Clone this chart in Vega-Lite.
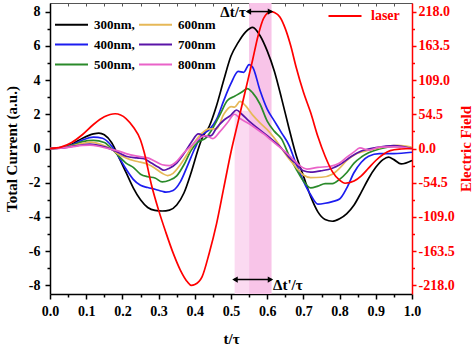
{
"$schema": "https://vega.github.io/schema/vega-lite/v6.json",
"width": 362, "height": 291,
"autosize": {"type": "none"},
"padding": {"left": 50, "top": 3, "right": 62, "bottom": 56},
"background": "white",
"config": {
 "view": {"stroke": null},
 "axis": {"grid": false, "labelFlush": false, "labelFont": "Liberation Serif", "labelFontWeight": "bold", "labelFontSize": 14, "labelColor": "black", "titleFont": "Liberation Serif", "titleFontWeight": "bold", "titleFontSize": 15, "titleColor": "black", "domainColor": "black", "domainWidth": 1.5, "tickColor": "black", "tickWidth": 1.5},
 "legend": {"labelFont": "Liberation Serif", "labelFontWeight": "bold", "labelFontSize": 13, "labelColor": "black", "padding": 0}
},
"datasets": {
 "bands": [
  {"shade": "light", "x0": 0.51, "x1": 0.55, "y0": -8.5, "y1": 2.2},
  {"shade": "dark", "x0": 0.55, "x1": 0.612, "y0": -8.5, "y1": 8.5}
 ],
 "curves": [
  {"s":"300nm","t":0,"v":0},{"s":"300nm","t":0.03,"v":0.05},{"s":"300nm","t":0.06,"v":0.25},{"s":"300nm","t":0.09,"v":0.6},{"s":"300nm","t":0.12,"v":0.85},{"s":"300nm","t":0.135,"v":0.9},{"s":"300nm","t":0.15,"v":0.8},{"s":"300nm","t":0.17,"v":0.35},{"s":"300nm","t":0.19,"v":-0.5},{"s":"300nm","t":0.21,"v":-1.4},{"s":"300nm","t":0.23,"v":-2.3},{"s":"300nm","t":0.25,"v":-3.0},{"s":"300nm","t":0.27,"v":-3.45},{"s":"300nm","t":0.29,"v":-3.62},{"s":"300nm","t":0.31,"v":-3.65},{"s":"300nm","t":0.33,"v":-3.6},{"s":"300nm","t":0.35,"v":-3.3},{"s":"300nm","t":0.37,"v":-2.6},{"s":"300nm","t":0.39,"v":-1.4},{"s":"300nm","t":0.41,"v":0.0},{"s":"300nm","t":0.42,"v":0.6},{"s":"300nm","t":0.44,"v":1.3},{"s":"300nm","t":0.46,"v":2.5},{"s":"300nm","t":0.48,"v":4.0},{"s":"300nm","t":0.5,"v":5.4},{"s":"300nm","t":0.52,"v":6.2},{"s":"300nm","t":0.54,"v":6.8},{"s":"300nm","t":0.56,"v":7.08},{"s":"300nm","t":0.58,"v":6.6},{"s":"300nm","t":0.6,"v":5.7},{"s":"300nm","t":0.62,"v":4.5},{"s":"300nm","t":0.64,"v":2.9},{"s":"300nm","t":0.66,"v":1.2},{"s":"300nm","t":0.68,"v":-0.4},{"s":"300nm","t":0.7,"v":-1.6},{"s":"300nm","t":0.72,"v":-2.8},{"s":"300nm","t":0.74,"v":-3.7},{"s":"300nm","t":0.76,"v":-4.15},{"s":"300nm","t":0.78,"v":-4.25},{"s":"300nm","t":0.8,"v":-4.1},{"s":"300nm","t":0.82,"v":-3.8},{"s":"300nm","t":0.84,"v":-3.3},{"s":"300nm","t":0.86,"v":-2.55},{"s":"300nm","t":0.88,"v":-1.75},{"s":"300nm","t":0.9,"v":-1.1},{"s":"300nm","t":0.92,"v":-0.65},{"s":"300nm","t":0.935,"v":-0.5},{"s":"300nm","t":0.95,"v":-0.65},{"s":"300nm","t":0.97,"v":-0.9},{"s":"300nm","t":1.0,"v":-0.7},
  {"s":"400nm","t":0,"v":0},{"s":"400nm","t":0.03,"v":0.05},{"s":"400nm","t":0.06,"v":0.2},{"s":"400nm","t":0.09,"v":0.5},{"s":"400nm","t":0.12,"v":0.67},{"s":"400nm","t":0.145,"v":0.6},{"s":"400nm","t":0.17,"v":0.15},{"s":"400nm","t":0.19,"v":-0.5},{"s":"400nm","t":0.21,"v":-1.2},{"s":"400nm","t":0.23,"v":-1.8},{"s":"400nm","t":0.25,"v":-2.15},{"s":"400nm","t":0.27,"v":-2.28},{"s":"400nm","t":0.29,"v":-2.38},{"s":"400nm","t":0.31,"v":-2.5},{"s":"400nm","t":0.32,"v":-2.55},{"s":"400nm","t":0.34,"v":-2.45},{"s":"400nm","t":0.36,"v":-1.95},{"s":"400nm","t":0.38,"v":-1.0},{"s":"400nm","t":0.4,"v":0.0},{"s":"400nm","t":0.42,"v":0.8},{"s":"400nm","t":0.44,"v":1.1},{"s":"400nm","t":0.46,"v":1.7},{"s":"400nm","t":0.48,"v":2.8},{"s":"400nm","t":0.5,"v":3.8},{"s":"400nm","t":0.52,"v":4.5},{"s":"400nm","t":0.535,"v":4.45},{"s":"400nm","t":0.55,"v":4.9},{"s":"400nm","t":0.56,"v":4.75},{"s":"400nm","t":0.58,"v":3.4},{"s":"400nm","t":0.6,"v":2.3},{"s":"400nm","t":0.62,"v":1.6},{"s":"400nm","t":0.64,"v":0.9},{"s":"400nm","t":0.66,"v":0.2},{"s":"400nm","t":0.68,"v":-0.9},{"s":"400nm","t":0.7,"v":-1.9},{"s":"400nm","t":0.72,"v":-2.7},{"s":"400nm","t":0.74,"v":-3.25},{"s":"400nm","t":0.76,"v":-3.2},{"s":"400nm","t":0.78,"v":-3.1},{"s":"400nm","t":0.8,"v":-2.95},{"s":"400nm","t":0.82,"v":-2.3},{"s":"400nm","t":0.84,"v":-1.4},{"s":"400nm","t":0.86,"v":-0.8},{"s":"400nm","t":0.88,"v":-0.45},{"s":"400nm","t":0.91,"v":-0.3},{"s":"400nm","t":0.95,"v":-0.3},{"s":"400nm","t":1.0,"v":-0.22},
  {"s":"500nm","t":0,"v":0},{"s":"500nm","t":0.03,"v":0.04},{"s":"500nm","t":0.06,"v":0.18},{"s":"500nm","t":0.09,"v":0.4},{"s":"500nm","t":0.12,"v":0.47},{"s":"500nm","t":0.15,"v":0.35},{"s":"500nm","t":0.17,"v":0.0},{"s":"500nm","t":0.19,"v":-0.45},{"s":"500nm","t":0.21,"v":-0.85},{"s":"500nm","t":0.23,"v":-1.1},{"s":"500nm","t":0.25,"v":-1.5},{"s":"500nm","t":0.27,"v":-1.65},{"s":"500nm","t":0.29,"v":-1.72},{"s":"500nm","t":0.31,"v":-1.95},{"s":"500nm","t":0.33,"v":-1.85},{"s":"500nm","t":0.35,"v":-1.6},{"s":"500nm","t":0.37,"v":-0.95},{"s":"500nm","t":0.39,"v":-0.1},{"s":"500nm","t":0.41,"v":0.4},{"s":"500nm","t":0.43,"v":0.6},{"s":"500nm","t":0.45,"v":1.2},{"s":"500nm","t":0.47,"v":2.0},{"s":"500nm","t":0.49,"v":2.8},{"s":"500nm","t":0.51,"v":3.05},{"s":"500nm","t":0.53,"v":3.3},{"s":"500nm","t":0.545,"v":3.5},{"s":"500nm","t":0.56,"v":3.25},{"s":"500nm","t":0.58,"v":2.6},{"s":"500nm","t":0.6,"v":1.6},{"s":"500nm","t":0.62,"v":1.0},{"s":"500nm","t":0.64,"v":0.55},{"s":"500nm","t":0.66,"v":-0.4},{"s":"500nm","t":0.68,"v":-1.2},{"s":"500nm","t":0.7,"v":-1.9},{"s":"500nm","t":0.72,"v":-2.3},{"s":"500nm","t":0.74,"v":-2.2},{"s":"500nm","t":0.76,"v":-2.05},{"s":"500nm","t":0.78,"v":-2.05},{"s":"500nm","t":0.8,"v":-1.8},{"s":"500nm","t":0.82,"v":-1.4},{"s":"500nm","t":0.84,"v":-0.85},{"s":"500nm","t":0.86,"v":-0.5},{"s":"500nm","t":0.88,"v":-0.25},{"s":"500nm","t":0.91,"v":-0.03},{"s":"500nm","t":0.95,"v":0.12},{"s":"500nm","t":1.0,"v":0.0},
  {"s":"600nm","t":0,"v":0},{"s":"600nm","t":0.03,"v":0.03},{"s":"600nm","t":0.06,"v":0.15},{"s":"600nm","t":0.09,"v":0.3},{"s":"600nm","t":0.11,"v":0.37},{"s":"600nm","t":0.14,"v":0.25},{"s":"600nm","t":0.17,"v":-0.05},{"s":"600nm","t":0.19,"v":-0.35},{"s":"600nm","t":0.21,"v":-0.55},{"s":"600nm","t":0.23,"v":-0.7},{"s":"600nm","t":0.25,"v":-0.8},{"s":"600nm","t":0.27,"v":-0.92},{"s":"600nm","t":0.29,"v":-1.15},{"s":"600nm","t":0.31,"v":-1.45},{"s":"600nm","t":0.325,"v":-1.58},{"s":"600nm","t":0.34,"v":-1.45},{"s":"600nm","t":0.36,"v":-0.95},{"s":"600nm","t":0.38,"v":-0.3},{"s":"600nm","t":0.4,"v":0.4},{"s":"600nm","t":0.42,"v":0.9},{"s":"600nm","t":0.44,"v":1.15},{"s":"600nm","t":0.46,"v":1.15},{"s":"600nm","t":0.48,"v":2.0},{"s":"600nm","t":0.5,"v":2.45},{"s":"600nm","t":0.51,"v":2.42},{"s":"600nm","t":0.525,"v":2.75},{"s":"600nm","t":0.54,"v":2.5},{"s":"600nm","t":0.56,"v":1.95},{"s":"600nm","t":0.58,"v":1.5},{"s":"600nm","t":0.6,"v":1.1},{"s":"600nm","t":0.62,"v":0.6},{"s":"600nm","t":0.64,"v":0.0},{"s":"600nm","t":0.66,"v":-0.6},{"s":"600nm","t":0.68,"v":-1.1},{"s":"600nm","t":0.7,"v":-1.55},{"s":"600nm","t":0.72,"v":-1.7},{"s":"600nm","t":0.75,"v":-1.68},{"s":"600nm","t":0.78,"v":-1.5},{"s":"600nm","t":0.8,"v":-1.15},{"s":"600nm","t":0.82,"v":-0.7},{"s":"600nm","t":0.84,"v":-0.38},{"s":"600nm","t":0.87,"v":-0.15},{"s":"600nm","t":0.91,"v":0.04},{"s":"600nm","t":0.96,"v":0.18},{"s":"600nm","t":1.0,"v":0.08},
  {"s":"700nm","t":0,"v":0},{"s":"700nm","t":0.03,"v":0.02},{"s":"700nm","t":0.06,"v":0.12},{"s":"700nm","t":0.09,"v":0.22},{"s":"700nm","t":0.11,"v":0.25},{"s":"700nm","t":0.14,"v":0.15},{"s":"700nm","t":0.17,"v":-0.05},{"s":"700nm","t":0.19,"v":-0.25},{"s":"700nm","t":0.21,"v":-0.45},{"s":"700nm","t":0.24,"v":-0.55},{"s":"700nm","t":0.26,"v":-0.6},{"s":"700nm","t":0.28,"v":-0.85},{"s":"700nm","t":0.3,"v":-1.1},{"s":"700nm","t":0.315,"v":-1.27},{"s":"700nm","t":0.33,"v":-1.15},{"s":"700nm","t":0.35,"v":-0.85},{"s":"700nm","t":0.37,"v":-0.3},{"s":"700nm","t":0.39,"v":0.35},{"s":"700nm","t":0.41,"v":0.85},{"s":"700nm","t":0.43,"v":0.7},{"s":"700nm","t":0.445,"v":0.75},{"s":"700nm","t":0.46,"v":1.2},{"s":"700nm","t":0.48,"v":1.65},{"s":"700nm","t":0.5,"v":1.95},{"s":"700nm","t":0.515,"v":2.25},{"s":"700nm","t":0.53,"v":2.0},{"s":"700nm","t":0.55,"v":1.6},{"s":"700nm","t":0.57,"v":1.25},{"s":"700nm","t":0.6,"v":0.75},{"s":"700nm","t":0.62,"v":0.4},{"s":"700nm","t":0.64,"v":0.0},{"s":"700nm","t":0.66,"v":-0.5},{"s":"700nm","t":0.68,"v":-0.9},{"s":"700nm","t":0.7,"v":-1.3},{"s":"700nm","t":0.72,"v":-1.38},{"s":"700nm","t":0.75,"v":-1.3},{"s":"700nm","t":0.78,"v":-1.15},{"s":"700nm","t":0.8,"v":-0.95},{"s":"700nm","t":0.83,"v":-0.5},{"s":"700nm","t":0.86,"v":-0.15},{"s":"700nm","t":0.9,"v":0.05},{"s":"700nm","t":0.95,"v":0.17},{"s":"700nm","t":1.0,"v":0.0},
  {"s":"800nm","t":0,"v":0},{"s":"800nm","t":0.03,"v":0.02},{"s":"800nm","t":0.06,"v":0.1},{"s":"800nm","t":0.09,"v":0.18},{"s":"800nm","t":0.11,"v":0.2},{"s":"800nm","t":0.14,"v":0.1},{"s":"800nm","t":0.17,"v":-0.05},{"s":"800nm","t":0.19,"v":-0.15},{"s":"800nm","t":0.21,"v":-0.3},{"s":"800nm","t":0.24,"v":-0.45},{"s":"800nm","t":0.27,"v":-0.55},{"s":"800nm","t":0.29,"v":-0.75},{"s":"800nm","t":0.31,"v":-0.95},{"s":"800nm","t":0.33,"v":-1.0},{"s":"800nm","t":0.35,"v":-0.75},{"s":"800nm","t":0.37,"v":-0.25},{"s":"800nm","t":0.39,"v":0.15},{"s":"800nm","t":0.41,"v":0.55},{"s":"800nm","t":0.43,"v":0.75},{"s":"800nm","t":0.45,"v":0.58},{"s":"800nm","t":0.47,"v":1.0},{"s":"800nm","t":0.49,"v":1.5},{"s":"800nm","t":0.51,"v":2.0},{"s":"800nm","t":0.525,"v":1.75},{"s":"800nm","t":0.55,"v":1.45},{"s":"800nm","t":0.57,"v":1.15},{"s":"800nm","t":0.59,"v":0.85},{"s":"800nm","t":0.61,"v":0.5},{"s":"800nm","t":0.63,"v":0.15},{"s":"800nm","t":0.65,"v":-0.2},{"s":"800nm","t":0.67,"v":-0.6},{"s":"800nm","t":0.69,"v":-1.0},{"s":"800nm","t":0.71,"v":-1.2},{"s":"800nm","t":0.74,"v":-1.1},{"s":"800nm","t":0.77,"v":-1.05},{"s":"800nm","t":0.8,"v":-0.85},{"s":"800nm","t":0.82,"v":-0.5},{"s":"800nm","t":0.84,"v":-0.2},{"s":"800nm","t":0.856,"v":0.04},{"s":"800nm","t":0.88,"v":-0.1},{"s":"800nm","t":0.91,"v":0.08},{"s":"800nm","t":0.96,"v":0.1},{"s":"800nm","t":1.0,"v":-0.02}
 ],
 "laser": [
  {"t":0,"e":0},{"t":0.03,"e":2.2},{"t":0.06,"e":9.5},{"t":0.09,"e":22.3},{"t":0.12,"e":38.2},{"t":0.15,"e":50.4},{"t":0.18,"e":55.3},{"t":0.21,"e":47.7},{"t":0.23,"e":34.1},{"t":0.25,"e":13.6},{"t":0.26,"e":-5.5},{"t":0.28,"e":-57.2},{"t":0.3,"e":-98.1},{"t":0.32,"e":-133.5},{"t":0.34,"e":-166.2},{"t":0.36,"e":-193.5},{"t":0.38,"e":-212.6},{"t":0.39,"e":-218},{"t":0.4,"e":-216.6},{"t":0.42,"e":-204.4},{"t":0.44,"e":-166.2},{"t":0.46,"e":-119.9},{"t":0.48,"e":-62.7},{"t":0.5,"e":-5.5},{"t":0.52,"e":43.6},{"t":0.54,"e":92.7},{"t":0.56,"e":141.7},{"t":0.575,"e":179.9},{"t":0.59,"e":207.1},{"t":0.61,"e":218},{"t":0.62,"e":216.6},{"t":0.635,"e":209.3},{"t":0.65,"e":190.8},{"t":0.665,"e":163.5},{"t":0.68,"e":129.4},{"t":0.7,"e":89.9},{"t":0.72,"e":57.2},{"t":0.74,"e":19.1},{"t":0.76,"e":-12.3},{"t":0.78,"e":-36.8},{"t":0.8,"e":-50.4},{"t":0.815,"e":-55.3},{"t":0.84,"e":-51.8},{"t":0.86,"e":-43.6},{"t":0.88,"e":-31.3},{"t":0.9,"e":-19.1},{"t":0.92,"e":-9.5},{"t":0.94,"e":-3.3},{"t":0.97,"e":-0.8},{"t":1.0,"e":0}
 ],
 "arrows": [
  {"x0": 0.545, "x1": 0.612, "y": 8.0},
  {"x0": 0.508, "x1": 0.612, "y": -7.66}
 ],
 "heads": [
  {"x": 0.548, "y": 8.0, "dir": "left"},
  {"x": 0.609, "y": 8.0, "dir": "right"},
  {"x": 0.511, "y": -7.66, "dir": "left"},
  {"x": 0.609, "y": -7.66, "dir": "right"}
 ],
 "labelTop": [{"x": 0.541, "y": 7.95, "label": "Δt/τ"}],
 "labelBottom": [{"x": 0.616, "y": -7.95, "label": "Δt'/τ"}]
},
"layer": [
 {
  "data": {"name": "bands"},
  "mark": {"type": "rect"},
  "encoding": {
   "x": {"field": "x0", "type": "quantitative", "scale": {"domain": [0, 1]}, "axis": {"orient": "bottom", "values": [0.05,0.15,0.25,0.35,0.45,0.55,0.65,0.75,0.85,0.95], "labels": false, "domain": false, "tickSize": 3, "title": null}},
   "x2": {"field": "x1"},
   "y": {"field": "y0", "type": "quantitative", "scale": {"domain": [-8.5, 8.5], "nice": false}, "axis": {"orient": "left", "values": [-7,-5,-3,-1,1,3,5,7], "labels": false, "domain": false, "tickSize": 3, "title": null}},
   "y2": {"field": "y1"},
   "color": {"field": "shade", "type": "nominal", "scale": {"domain": ["light", "dark"], "range": ["#fbdaf1", "#f8c4e8"]}, "legend": null}
  }
 },
 {
  "data": {"name": "curves"},
  "mark": {"type": "line", "strokeWidth": 1.7, "interpolate": "monotone"},
  "encoding": {
   "x": {"field": "t", "type": "quantitative", "scale": {"domain": [0, 1]}, "axis": {"orient": "bottom", "values": [0,0.1,0.2,0.3,0.4,0.5,0.6,0.7,0.8,0.9,1.0], "format": ".1f", "tickSize": 5, "labelPadding": 5, "title": "t/τ", "titleY": 44, "titleBaseline": "middle"}},
   "y": {"field": "v", "type": "quantitative", "scale": {"domain": [-8.5, 8.5], "nice": false}, "axis": {"orient": "left", "values": [-8,-6,-4,-2,0,2,4,6,8], "labelExpr": "replace(format(datum.value, 'd'), '\u2212', '-')", "tickSize": 5, "labelPadding": 5, "title": "Total Current (a.u.)", "titleX": -39, "titleBaseline": "middle"}},
   "color": {"field": "s", "type": "nominal", "scale": {"domain": ["300nm","400nm","500nm","600nm","700nm","800nm"], "range": ["#000000","#1c1cf0","#2a8a2a","#e6b857","#5a14a8","#ea62c8"]},
    "legend": {"orient": "none", "legendX": 26, "legendY": 15, "columns": 2, "title": null, "symbolType": "M-5,0H1", "symbolSize": 121, "symbolStrokeWidth": 2, "labelOffset": 5, "rowPadding": 6, "columnPadding": 0, "labelExpr": "indexof(['300nm','400nm','500nm'], datum.label) >= 0 ? datum.label + ',' : datum.label"}}
  }
 },
 {
  "data": {"name": "laser"},
  "mark": {"type": "line", "strokeWidth": 1.7, "interpolate": "monotone"},
  "encoding": {
   "x": {"field": "t", "type": "quantitative", "scale": {"domain": [0, 1]}, "axis": null},
   "y": {"field": "e", "type": "quantitative", "scale": {"domain": [-231.625, 231.625], "nice": false}, "axis": {"orient": "right", "values": [-218,-163.5,-109,-54.5,0,54.5,109,163.5,218], "labelExpr": "replace(format(datum.value, '.1f'), '\u2212', '-')", "tickSize": 4, "labelPadding": 2, "domainColor": "#ff0000", "tickColor": "#ff0000", "labelColor": "#ff0000", "title": "Electric Field", "titleColor": "#ff0000", "titleAngle": 270, "titleX": 53, "titleBaseline": "middle"}},
   "color": {"datum": "laser", "scale": {"domain": ["laser"], "range": ["#ff0000"]},
    "legend": {"orient": "none", "legendX": 299, "legendY": 6, "title": null, "symbolType": "M-5,0H1", "symbolSize": 121, "symbolStrokeWidth": 2, "labelOffset": 8, "labelColor": "#ff0000", "labelFontSize": 14}}
  }
 },
 {
  "data": {"name": "laser"},
  "mark": {"type": "point", "opacity": 0},
  "encoding": {
   "x": {"field": "t", "type": "quantitative", "scale": {"domain": [0, 1]}, "axis": {"orient": "top", "values": [0,0.05,0.1,0.15,0.2,0.25,0.3,0.35,0.4,0.45,0.5,0.55,0.6,0.65,0.7,0.75,0.8,0.85,0.9,0.95,1.0], "labels": false, "tickSize": -3, "domainColor": "#555555", "tickColor": "#555555", "domainWidth": 1.2, "tickWidth": 1, "title": null}},
   "y": {"field": "e", "type": "quantitative", "scale": {"domain": [-231.625, 231.625], "nice": false}, "axis": {"orient": "right", "values": [-190.75,-136.25,-81.75,-27.25,27.25,81.75,136.25,190.75], "labels": false, "domain": false, "tickSize": 2.5, "tickColor": "#ff0000", "title": null}}
  }
 },
 {
  "data": {"name": "arrows"},
  "mark": {"type": "rule", "color": "black", "strokeWidth": 1.5},
  "encoding": {
   "x": {"field": "x0", "type": "quantitative", "scale": {"domain": [0, 1]}, "axis": null},
   "x2": {"field": "x1"},
   "y": {"field": "y", "type": "quantitative", "scale": {"domain": [-8.5, 8.5], "nice": false}, "axis": null}
  }
 },
 {
  "data": {"name": "heads"},
  "mark": {"type": "point", "filled": true, "color": "black", "size": 40, "opacity": 1},
  "encoding": {
   "x": {"field": "x", "type": "quantitative", "scale": {"domain": [0, 1]}, "axis": null},
   "y": {"field": "y", "type": "quantitative", "scale": {"domain": [-8.5, 8.5], "nice": false}, "axis": null},
   "shape": {"field": "dir", "type": "nominal", "scale": {"domain": ["left", "right"], "range": ["triangle-left", "triangle-right"]}, "legend": null}
  }
 },
 {
  "data": {"name": "labelTop"},
  "mark": {"type": "text", "align": "right", "baseline": "middle", "font": "Liberation Serif", "fontWeight": "bold", "fontSize": 15, "color": "black"},
  "encoding": {
   "x": {"field": "x", "type": "quantitative", "scale": {"domain": [0, 1]}, "axis": null},
   "y": {"field": "y", "type": "quantitative", "scale": {"domain": [-8.5, 8.5], "nice": false}, "axis": null},
   "text": {"field": "label"}
  }
 },
 {
  "data": {"name": "labelBottom"},
  "mark": {"type": "text", "align": "left", "baseline": "middle", "font": "Liberation Serif", "fontWeight": "bold", "fontSize": 15, "color": "black"},
  "encoding": {
   "x": {"field": "x", "type": "quantitative", "scale": {"domain": [0, 1]}, "axis": null},
   "y": {"field": "y", "type": "quantitative", "scale": {"domain": [-8.5, 8.5], "nice": false}, "axis": null},
   "text": {"field": "label"}
  }
 }
],
"resolve": {"scale": {"y": "independent", "color": "independent", "shape": "independent"}, "axis": {"x": "independent", "y": "independent"}}
}
